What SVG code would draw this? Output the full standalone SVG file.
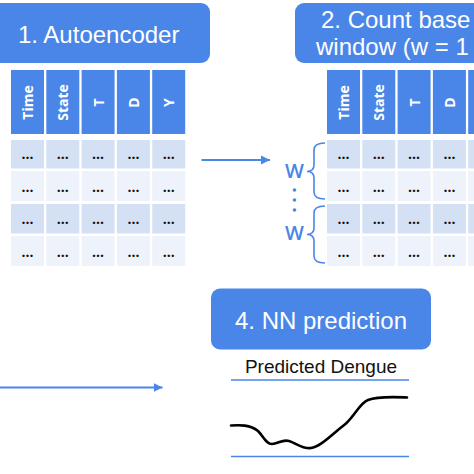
<svg xmlns="http://www.w3.org/2000/svg" width="474" height="474" viewBox="0 0 474 474">
<defs>
<style>
.box{fill:#4a86e8}
.title{font-family:"Liberation Sans",Arial,sans-serif;font-size:24px;fill:#ffffff}
.hdr{fill:#4a86e8}
.htxt{font-family:"Open Sans","Liberation Sans",sans-serif;font-weight:bold;font-size:14px;fill:#ffffff;text-anchor:middle;dominant-baseline:central}
.dark{fill:#d4e1f5}
.light{fill:#eef3fb}
.dots{font-family:"Open Sans","Liberation Sans",sans-serif;font-weight:bold;font-size:14px;fill:#111111;text-anchor:middle}
.conn{stroke:#4a86e8;stroke-width:2;fill:none}
.brace{stroke:#4a86e8;stroke-width:1.6;fill:none}
.wl{font-family:"Open Sans","Liberation Sans",sans-serif;font-size:20px;font-weight:600;fill:#4a86e8;text-anchor:middle}
</style>
<marker id="ah" markerWidth="10" markerHeight="10" refX="9" refY="5" orient="auto" markerUnits="userSpaceOnUse">
<path d="M0,0.5 L9,5 L0,9.5 Z" fill="#4a86e8"/>
</marker>
</defs>
<rect width="474" height="474" fill="#ffffff"/>

<g id="node-autoencoder">
<rect class="box" x="-20" y="3" width="230" height="60" rx="9"/>
<text class="title" x="18" y="43">1. Autoencoder</text>
</g>

<g id="table-1">
<rect class="hdr" x="11" y="70" width="33" height="64"/>
<rect class="hdr" x="46.3" y="70" width="33" height="64"/>
<rect class="hdr" x="81.6" y="70" width="33" height="64"/>
<rect class="hdr" x="116.9" y="70" width="33" height="64"/>
<rect class="hdr" x="152.2" y="70" width="33" height="64"/>
<text class="htxt" transform="translate(27.5,102.5) rotate(-90)">Time</text>
<text class="htxt" transform="translate(62.8,102.5) rotate(-90)">State</text>
<text class="htxt" transform="translate(98.1,102.5) rotate(-90)">T</text>
<text class="htxt" transform="translate(133.4,102.5) rotate(-90)">D</text>
<text class="htxt" transform="translate(168.7,102.5) rotate(-90)">Y</text>
<g class="dark">
<rect x="11" y="140" width="33" height="28.5"/><rect x="46.3" y="140" width="33" height="28.5"/><rect x="81.6" y="140" width="33" height="28.5"/><rect x="116.9" y="140" width="33" height="28.5"/><rect x="152.2" y="140" width="33" height="28.5"/>
<rect x="11" y="204" width="33" height="29.5"/><rect x="46.3" y="204" width="33" height="29.5"/><rect x="81.6" y="204" width="33" height="29.5"/><rect x="116.9" y="204" width="33" height="29.5"/><rect x="152.2" y="204" width="33" height="29.5"/>
</g>
<g class="light">
<rect x="11" y="171" width="33" height="30"/><rect x="46.3" y="171" width="33" height="30"/><rect x="81.6" y="171" width="33" height="30"/><rect x="116.9" y="171" width="33" height="30"/><rect x="152.2" y="171" width="33" height="30"/>
<rect x="11" y="236" width="33" height="30"/><rect x="46.3" y="236" width="33" height="30"/><rect x="81.6" y="236" width="33" height="30"/><rect x="116.9" y="236" width="33" height="30"/><rect x="152.2" y="236" width="33" height="30"/>
</g>
<g class="dots">
<text x="27.5" y="159">...</text><text x="62.8" y="159">...</text><text x="98.1" y="159">...</text><text x="133.4" y="159">...</text><text x="168.7" y="159">...</text>
<text x="27.5" y="192">...</text><text x="62.8" y="192">...</text><text x="98.1" y="192">...</text><text x="133.4" y="192">...</text><text x="168.7" y="192">...</text>
<text x="27.5" y="224">...</text><text x="62.8" y="224">...</text><text x="98.1" y="224">...</text><text x="133.4" y="224">...</text><text x="168.7" y="224">...</text>
<text x="27.5" y="257">...</text><text x="62.8" y="257">...</text><text x="98.1" y="257">...</text><text x="133.4" y="257">...</text><text x="168.7" y="257">...</text>
</g>
</g>

<g id="node-count-window">
<rect class="box" x="295" y="3" width="200" height="60" rx="9"/>
<text class="title" x="321" y="28">2. Count base</text>
<text class="title" x="316" y="55">window (w = 1</text>
</g>

<g id="table-2">
<rect class="hdr" x="327" y="70" width="33" height="64"/>
<rect class="hdr" x="362.3" y="70" width="33" height="64"/>
<rect class="hdr" x="397.6" y="70" width="33" height="64"/>
<rect class="hdr" x="432.9" y="70" width="33" height="64"/>
<rect class="hdr" x="468.2" y="70" width="33" height="64"/>
<text class="htxt" transform="translate(343.5,102.5) rotate(-90)">Time</text>
<text class="htxt" transform="translate(378.8,102.5) rotate(-90)">State</text>
<text class="htxt" transform="translate(414.1,102.5) rotate(-90)">T</text>
<text class="htxt" transform="translate(449.4,102.5) rotate(-90)">D</text>
<g class="dark">
<rect x="327" y="140" width="33" height="28.5"/><rect x="362.3" y="140" width="33" height="28.5"/><rect x="397.6" y="140" width="33" height="28.5"/><rect x="432.9" y="140" width="33" height="28.5"/><rect x="468.2" y="140" width="33" height="28.5"/>
<rect x="327" y="204" width="33" height="29.5"/><rect x="362.3" y="204" width="33" height="29.5"/><rect x="397.6" y="204" width="33" height="29.5"/><rect x="432.9" y="204" width="33" height="29.5"/><rect x="468.2" y="204" width="33" height="29.5"/>
</g>
<g class="light">
<rect x="327" y="171" width="33" height="30"/><rect x="362.3" y="171" width="33" height="30"/><rect x="397.6" y="171" width="33" height="30"/><rect x="432.9" y="171" width="33" height="30"/><rect x="468.2" y="171" width="33" height="30"/>
<rect x="327" y="236" width="33" height="30"/><rect x="362.3" y="236" width="33" height="30"/><rect x="397.6" y="236" width="33" height="30"/><rect x="432.9" y="236" width="33" height="30"/><rect x="468.2" y="236" width="33" height="30"/>
</g>
<g class="dots">
<text x="343.5" y="159">...</text><text x="378.8" y="159">...</text><text x="414.1" y="159">...</text><text x="449.4" y="159">...</text>
<text x="343.5" y="192">...</text><text x="378.8" y="192">...</text><text x="414.1" y="192">...</text><text x="449.4" y="192">...</text>
<text x="343.5" y="224">...</text><text x="378.8" y="224">...</text><text x="414.1" y="224">...</text><text x="449.4" y="224">...</text>
<text x="343.5" y="257">...</text><text x="378.8" y="257">...</text><text x="414.1" y="257">...</text><text x="449.4" y="257">...</text>
</g>
<path class="brace" d="M325,143 Q314,143 314,150 L314,165 Q314,171.5 307,171.5 Q314,171.5 314,178 L314,192 Q314,199 325,199"/>
<path class="brace" d="M325,206 Q314,206 314,213 L314,228 Q314,234.5 307,234.5 Q314,234.5 314,241 L314,256 Q314,263 325,263"/>
<text class="wl" x="294.5" y="177.5">W</text>
<text class="wl" x="294.5" y="240">W</text>
<circle cx="294.5" cy="190" r="1.8" fill="#4a86e8"/>
<circle cx="294.5" cy="200" r="1.8" fill="#4a86e8"/>
<circle cx="294.5" cy="210" r="1.8" fill="#4a86e8"/>
</g>

<g id="node-nn-prediction">
<rect class="box" x="211" y="288.5" width="220" height="61" rx="9"/>
<text class="title" x="321" y="329" text-anchor="middle">4. NN prediction</text>
<text x="321" y="372.5" text-anchor="middle" font-family="Liberation Sans, Arial, sans-serif" font-size="19" fill="#111111">Predicted Dengue</text>
<line x1="231" y1="380" x2="409" y2="380" stroke="#4a86e8" stroke-width="1.6"/>
<line x1="231" y1="456.5" x2="409" y2="456.5" stroke="#4a86e8" stroke-width="1.6"/>
<path d="M231,425.5 C240,425 250,424.5 258,431 C264,437 266,444 272,444 C278,444 282,439 289,441 C296,443 302,449 311,448 C320,447 330,436 346,423.5 C356,414 360,403 368,400 C378,396 395,397 407,397.5" fill="none" stroke="#000000" stroke-width="2.6" stroke-linecap="round" stroke-linejoin="round"/>
</g>

<g id="connectors">
<line class="conn" x1="201.5" y1="160" x2="270" y2="160" marker-end="url(#ah)"/>
<line class="conn" x1="0" y1="387.5" x2="162.5" y2="387.5" marker-end="url(#ah)"/>
</g>
</svg>
